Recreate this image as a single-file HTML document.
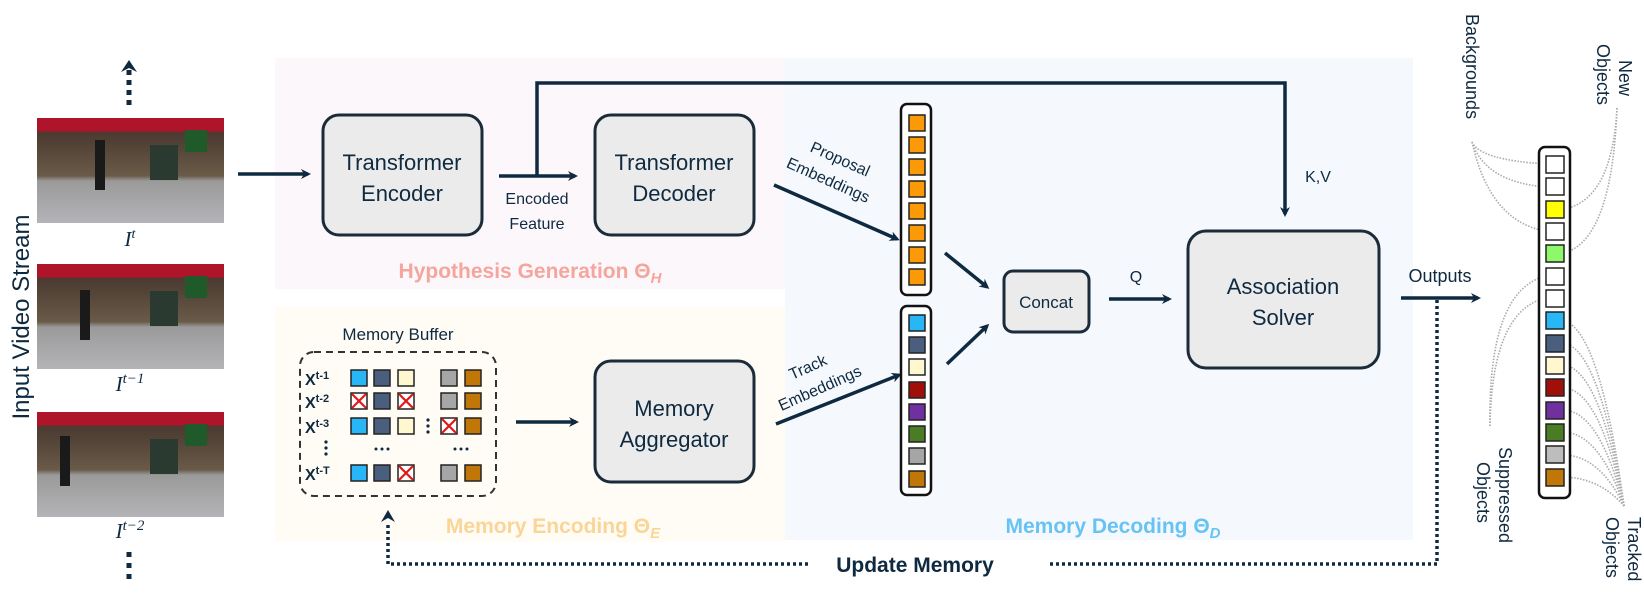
<!DOCTYPE html>
<html><head><meta charset="utf-8"><style>
html,body{margin:0;padding:0;background:#fff;}
svg{display:block;}
text{font-family:"Liberation Sans","DejaVu Sans",sans-serif;fill:#0f2a40;}
</style></head><body>
<svg width="1644" height="599" viewBox="0 0 1644 599" xmlns="http://www.w3.org/2000/svg">
<defs>
<marker id="ah" markerWidth="10" markerHeight="10" refX="7" refY="5" orient="auto" markerUnits="userSpaceOnUse">
<path d="M0,0 L10,5 L0,10 L3,5 Z" fill="#0f2a40"/></marker>
<linearGradient id="ph" x1="0" y1="0" x2="0" y2="1">
<stop offset="0" stop-color="#b0142a"/><stop offset="0.12" stop-color="#b0142a"/>
<stop offset="0.14" stop-color="#4a3a30"/><stop offset="0.55" stop-color="#6a5a48"/>
<stop offset="0.6" stop-color="#9a9a9a"/><stop offset="1" stop-color="#b4b4b8"/></linearGradient>
</defs>
<rect x="275" y="58" width="510" height="231" fill="#fcf7fa"/>
<rect x="275" y="306" width="510" height="236" fill="#fefcf4"/>
<rect x="785" y="58" width="628" height="482" fill="#f5f9fd"/>

<g>
<rect x="37" y="118" width="187" height="105" fill="url(#ph)"/>
<rect x="37" y="264" width="187" height="105" fill="url(#ph)"/>
<rect x="37" y="412" width="187" height="105" fill="url(#ph)"/>
<rect x="185" y="130" width="22" height="22" fill="#1f5a2a"/><rect x="185" y="276" width="22" height="22" fill="#1f5a2a"/><rect x="185" y="424" width="22" height="22" fill="#1f5a2a"/>
<rect x="150" y="145" width="28" height="35" fill="#2a3a30"/><rect x="150" y="291" width="28" height="35" fill="#2a3a30"/><rect x="150" y="439" width="28" height="35" fill="#2a3a30"/>
<rect x="95" y="140" width="10" height="50" fill="#1a1a1a"/><rect x="80" y="290" width="10" height="50" fill="#1a1a1a"/><rect x="60" y="436" width="10" height="50" fill="#1a1a1a"/>
</g>
<text x="130" y="246" font-style="italic" font-size="21" text-anchor="middle" style="font-family:'Liberation Serif',serif">I<tspan dy="-8" font-size="14">t</tspan></text>
<text x="130" y="391" font-style="italic" font-size="21" text-anchor="middle" style="font-family:'Liberation Serif',serif">I<tspan dy="-8" font-size="15">t−1</tspan></text>
<text x="130" y="538" font-style="italic" font-size="21" text-anchor="middle" style="font-family:'Liberation Serif',serif">I<tspan dy="-8" font-size="15">t−2</tspan></text>
<text transform="translate(29,317) rotate(-90)" font-size="24" text-anchor="middle">Input Video Stream</text>
<line x1="129" y1="105" x2="129" y2="70" stroke="#0f2a40" stroke-width="5" stroke-dasharray="5,5"/>
<path d="M121,72 L129,60 L137,72 L129,68 Z" fill="#0f2a40"/>
<line x1="129" y1="552" x2="129" y2="584" stroke="#0f2a40" stroke-width="5" stroke-dasharray="5,6"/>

<g stroke="#0f2a40" stroke-width="3.5" fill="none">
<line x1="238" y1="174" x2="308" y2="174" marker-end="url(#ah)"/>
<line x1="499" y1="176" x2="575" y2="176" marker-end="url(#ah)"/>
<polyline points="537,176 537,83 1285,83 1285,214" marker-end="url(#ah)"/>
<line x1="516" y1="422" x2="576" y2="422" marker-end="url(#ah)"/>
<line x1="774" y1="185" x2="897" y2="239" marker-end="url(#ah)"/>
<line x1="776" y1="424" x2="899" y2="375" marker-end="url(#ah)"/>
<line x1="945" y1="253" x2="987" y2="287" marker-end="url(#ah)"/>
<line x1="947" y1="364" x2="987" y2="326" marker-end="url(#ah)"/>
<line x1="1109" y1="299" x2="1169" y2="299" marker-end="url(#ah)"/>
<line x1="1401" y1="298" x2="1478" y2="298" marker-end="url(#ah)"/>
</g>
<g stroke="#0f2a40" stroke-width="3.5" fill="none" stroke-dasharray="3,3">
<polyline points="1437,300 1437,564 1050,564"/>
<polyline points="808,564 388,564 388,522"/>
</g>
<path d="M381,522 L388,510 L395,522 L388,518 Z" fill="#0f2a40"/>

<g fill="#ebebeb" stroke="#1b2b3a" stroke-width="3">
<rect x="323" y="115" width="159" height="120" rx="16"/>
<rect x="595" y="115" width="159" height="120" rx="16"/>
<rect x="595" y="361" width="159" height="121" rx="16"/>
<rect x="1004" y="271" width="85" height="61" rx="9"/>
<rect x="1188" y="231" width="191" height="137" rx="18"/>
</g>
<g font-size="22" text-anchor="middle">
<text x="402" y="170">Transformer</text><text x="402" y="201">Encoder</text>
<text x="674" y="170">Transformer</text><text x="674" y="201">Decoder</text>
<text x="674" y="416">Memory</text><text x="674" y="447">Aggregator</text>
<text x="1283" y="294">Association</text><text x="1283" y="325">Solver</text>
</g>
<text x="1046" y="308" font-size="17" text-anchor="middle">Concat</text>
<g font-size="16" text-anchor="middle">
<text x="537" y="204">Encoded</text><text x="537" y="229">Feature</text>
<text x="1318" y="182">K,V</text>
<text x="1136" y="282">Q</text>
</g>
<text x="1440" y="282" font-size="18" text-anchor="middle">Outputs</text>
<text transform="translate(838,164) rotate(24)" font-size="16" text-anchor="middle">Proposal</text>
<text transform="translate(826,185) rotate(24)" font-size="16" text-anchor="middle">Embeddings</text>
<text transform="translate(810,372) rotate(-24)" font-size="16" text-anchor="middle">Track</text>
<text transform="translate(822,393) rotate(-24)" font-size="16" text-anchor="middle">Embeddings</text>

<text x="530" y="278" font-size="21" font-weight="bold" text-anchor="middle" style="fill:#f4a59c">Hypothesis Generation Θ<tspan dy="5" font-size="15" font-style="italic" style="fill:#f4a59c">H</tspan></text>
<text x="553" y="533" font-size="21" font-weight="bold" text-anchor="middle" style="fill:#fbd597">Memory Encoding Θ<tspan dy="5" font-size="15" font-style="italic" style="fill:#fbd597">E</tspan></text>
<text x="1113" y="533" font-size="21" font-weight="bold" text-anchor="middle" style="fill:#67c3f3">Memory Decoding Θ<tspan dy="5" font-size="15" font-style="italic" style="fill:#67c3f3">D</tspan></text>
<text x="915" y="572" font-size="21" font-weight="bold" text-anchor="middle">Update Memory</text>

<text x="398" y="340" font-size="17" text-anchor="middle">Memory Buffer</text>
<rect x="300" y="352" width="196" height="144" rx="14" fill="none" stroke="#333" stroke-width="2" stroke-dasharray="7,5"/>
<g font-size="16" font-weight="bold">
<text x="305" y="385">X<tspan dy="-6" font-size="11">t-1</tspan></text>
<text x="305" y="408">X<tspan dy="-6" font-size="11">t-2</tspan></text>
<text x="305" y="433">X<tspan dy="-6" font-size="11">t-3</tspan></text>
<text x="305" y="480">X<tspan dy="-6" font-size="11">t-T</tspan></text>
</g>
<g stroke="#222" stroke-width="1.5">
<rect x="351" y="370" width="16" height="16" fill="#29b6f6"/><rect x="374" y="370" width="16" height="16" fill="#4a5f7e"/><rect x="398" y="370" width="16" height="16" fill="#fff7d0"/><rect x="441" y="370" width="16" height="16" fill="#a6a6a6"/><rect x="465" y="370" width="16" height="16" fill="#c07708"/>
<rect x="351" y="393" width="16" height="16" fill="#fff"/><rect x="374" y="393" width="16" height="16" fill="#4a5f7e"/><rect x="398" y="393" width="16" height="16" fill="#fff"/><rect x="441" y="393" width="16" height="16" fill="#a6a6a6"/><rect x="465" y="393" width="16" height="16" fill="#c07708"/>
<rect x="351" y="418" width="16" height="16" fill="#29b6f6"/><rect x="374" y="418" width="16" height="16" fill="#4a5f7e"/><rect x="398" y="418" width="16" height="16" fill="#fff7d0"/><rect x="441" y="418" width="16" height="16" fill="#fff"/><rect x="465" y="418" width="16" height="16" fill="#c07708"/>
<rect x="351" y="465" width="16" height="16" fill="#29b6f6"/><rect x="374" y="465" width="16" height="16" fill="#4a5f7e"/><rect x="398" y="465" width="16" height="16" fill="#fff"/><rect x="441" y="465" width="16" height="16" fill="#a6a6a6"/><rect x="465" y="465" width="16" height="16" fill="#c07708"/>
</g>
<g stroke="#e01818" stroke-width="2.2">
<path d="M352,394 L366,408 M366,394 L352,408"/><path d="M399,394 L413,408 M413,394 L399,408"/>
<path d="M442,419 L456,433 M456,419 L442,433"/><path d="M399,466 L413,480 M413,466 L399,480"/>
</g>
<g fill="#0f2a40"><circle cx="428" cy="420" r="1.6"/><circle cx="428" cy="426" r="1.6"/><circle cx="428" cy="432" r="1.6"/>
<circle cx="326" cy="442" r="1.6"/><circle cx="326" cy="448" r="1.6"/><circle cx="326" cy="454" r="1.6"/>
<circle cx="376" cy="449" r="1.5"/><circle cx="382" cy="449" r="1.5"/><circle cx="388" cy="449" r="1.5"/>
<circle cx="455" cy="449" r="1.5"/><circle cx="461" cy="449" r="1.5"/><circle cx="467" cy="449" r="1.5"/></g>

<rect x="901" y="104" width="30" height="191" rx="6" fill="#fff" stroke="#111" stroke-width="2.5"/>
<g fill="#fb9a06" stroke="#222" stroke-width="1.5">
<rect x="909" y="115" width="16" height="16"/><rect x="909" y="137" width="16" height="16"/><rect x="909" y="159" width="16" height="16"/><rect x="909" y="181" width="16" height="16"/><rect x="909" y="203" width="16" height="16"/><rect x="909" y="225" width="16" height="16"/><rect x="909" y="247" width="16" height="16"/><rect x="909" y="269" width="16" height="16"/>
</g>
<rect x="901" y="306" width="30" height="189" rx="6" fill="#fff" stroke="#111" stroke-width="2.5"/>
<g stroke="#222" stroke-width="1.5">
<rect x="909" y="315" width="16" height="16" fill="#29b6f6"/><rect x="909" y="337" width="16" height="16" fill="#4a5f7e"/><rect x="909" y="359" width="16" height="16" fill="#fff7d0"/><rect x="909" y="382" width="16" height="16" fill="#a01008"/><rect x="909" y="404" width="16" height="16" fill="#7030a0"/><rect x="909" y="426" width="16" height="16" fill="#4a7c25"/><rect x="909" y="448" width="16" height="16" fill="#a6a6a6"/><rect x="909" y="471" width="16" height="16" fill="#c07708"/>
</g>

<g stroke="#aaa" stroke-width="1.6" fill="none" stroke-dasharray="1.5,1.5">
<path d="M1472,142 Q1480,160 1546,164"/><path d="M1472,142 Q1485,182 1546,187"/><path d="M1472,142 Q1490,222 1546,231"/>
<path d="M1617,108 Q1612,200 1564,209"/><path d="M1617,108 Q1612,240 1564,253"/>
<path d="M1490,426 Q1488,290 1546,276"/><path d="M1490,426 Q1492,310 1546,298"/>
<path d="M1624,506 Q1600,330 1564,321"/><path d="M1624,506 Q1600,350 1564,343"/><path d="M1624,506 Q1600,370 1564,365"/><path d="M1624,506 Q1600,390 1564,388"/><path d="M1624,506 Q1600,412 1564,410"/><path d="M1624,506 Q1600,434 1564,432"/><path d="M1624,506 Q1600,456 1564,455"/><path d="M1624,506 Q1600,478 1564,477"/>
</g>
<rect x="1539" y="147" width="31" height="351" rx="6" fill="#fff" stroke="#111" stroke-width="2.5"/>
<g stroke="#222" stroke-width="1.5">
<rect x="1546" y="156" width="18" height="17" fill="#fff"/><rect x="1546" y="178" width="18" height="17" fill="#fff"/><rect x="1546" y="201" width="18" height="17" fill="#ffff00"/><rect x="1546" y="223" width="18" height="17" fill="#fff"/><rect x="1546" y="245" width="18" height="17" fill="#8cf86a"/><rect x="1546" y="268" width="18" height="17" fill="#fff"/><rect x="1546" y="290" width="18" height="17" fill="#fff"/><rect x="1546" y="312" width="18" height="17" fill="#29b6f6"/><rect x="1546" y="335" width="18" height="17" fill="#4a5f7e"/><rect x="1546" y="357" width="18" height="17" fill="#fff7d0"/><rect x="1546" y="379" width="18" height="17" fill="#a01008"/><rect x="1546" y="402" width="18" height="17" fill="#7030a0"/><rect x="1546" y="424" width="18" height="17" fill="#4a7c25"/><rect x="1546" y="446" width="18" height="17" fill="#bdbdbd"/><rect x="1546" y="469" width="18" height="17" fill="#c07708"/>
</g>
<g font-size="18">
<text transform="translate(1466,14) rotate(90)">Backgrounds</text>
<text transform="translate(1619,60) rotate(90)">New</text>
<text transform="translate(1597,44) rotate(90)">Objects</text>
<text transform="translate(1499,447) rotate(90)">Suppressed</text>
<text transform="translate(1477,462) rotate(90)">Objects</text>
<text transform="translate(1628,517) rotate(90)">Tracked</text>
<text transform="translate(1606,517) rotate(90)">Objects</text>
</g>
</svg>
</body></html>
